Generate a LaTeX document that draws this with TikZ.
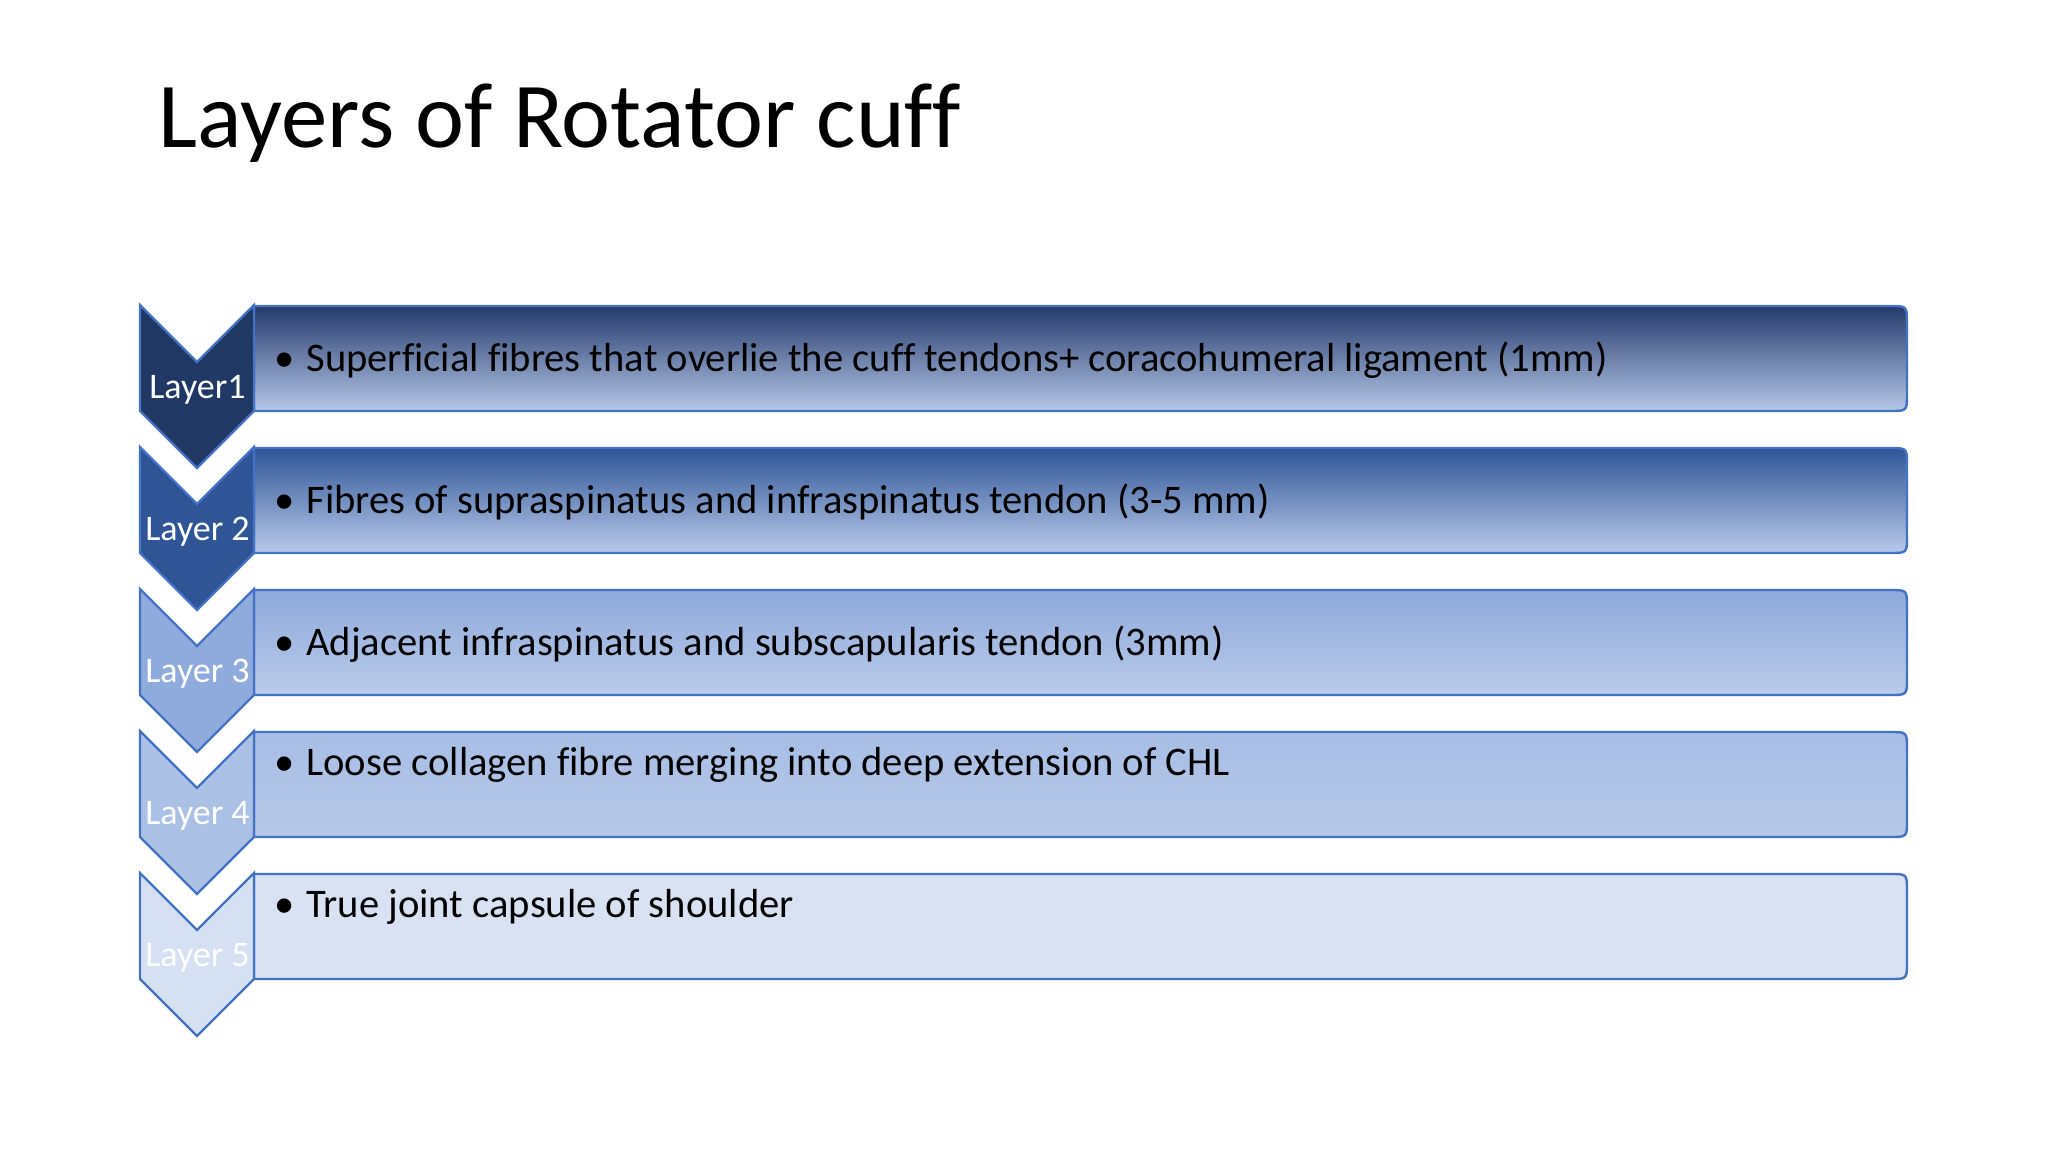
\documentclass[tikz,border=0pt]{standalone}
\usepackage{fontspec}
\setmainfont{Carlito}[Ligatures=NoCommon]
\definecolor{edge}{HTML}{4472C4}
\definecolor{cA}{HTML}{1F3864}
\definecolor{cB}{HTML}{2F5597}
\definecolor{cC}{HTML}{8FAADC}
\definecolor{cD}{HTML}{ABC0E5}
\definecolor{cE}{HTML}{D6E0F3}
\begin{document}
\begin{tikzpicture}[x=0.5pt,y=-0.5pt,
  chev/.style={draw=edge,line width=1.2pt,line join=miter},
  bar/.style={draw=edge,line width=1.2pt},
  lbl/.style={text=white,font=\fontsize{18}{21}\selectfont,inner sep=0pt,anchor=base},
  txt/.style={text=black,font=\fontsize{20.3}{24}\selectfont,inner sep=0pt,anchor=base west}]
\useasboundingbox[fill=white] (0,0) rectangle (2048,1152);
\node[anchor=base west,inner sep=0pt,font=\fontsize{46.4}{55}\selectfont] (title) at (158,147) {Layers of Rotator cuff};
% bars
\foreach \i/\topc/\midc/\botc in {0/243A6C/7890C2/B6C8E8, 1/2F5597/7D99CF/B8CAEA, 2/8EA9DB/A3B9E2/BACBEA, 3/A8BEE5/AFC3E7/B6C8E8, 4/D8E2F3/D8E2F3/D8E2F3}{
  \pgfmathsetmacro{\t}{306+142*\i}
  \pgfmathsetmacro{\b}{411+142*\i}
  \definecolor{tc}{HTML}{\topc}\definecolor{mc}{HTML}{\midc}\definecolor{bc}{HTML}{\botc}
  \path[bar,top color=tc,middle color=mc,bottom color=bc]
    (254,\t) -- (1890,\t) .. controls (1907,\t) .. (1907,\t+17) -- (1907,\b-17)
    .. controls (1907,\b) .. (1890,\b) -- (254,\b) -- cycle;
}
% chevrons
\foreach \i/\c in {0/cA,1/cB,2/cC,3/cD,4/cE}{
  \pgfmathsetmacro{\t}{305+142*\i}
  \path[chev,fill=\c] (140,\t) -- (197,\t+57) -- (254,\t) -- (254,\t+106) -- (197,\t+163) -- (140,\t+106) -- cycle;
}
\node[lbl] (l1) at (197.5,398) {Layer1};
\node[lbl] (l2) at (197.5,540) {Layer 2};
\node[lbl] (l3) at (197.5,682) {Layer 3};
\node[lbl] (l4) at (197.5,824) {Layer 4};
\node[lbl] (l5) at (197.5,966) {Layer 5};
\node[txt] (t1) at (306,371) {\llap{\textbullet\hspace{0.3em}}Superficial fibres that overlie the cuff tendons+ coracohumeral ligament (1mm)};
\node[txt] (t2) at (306,513) {\llap{\textbullet\hspace{0.3em}}Fibres of supraspinatus and infraspinatus tendon (3-5 mm)};
\node[txt] (t3) at (306,655) {\llap{\textbullet\hspace{0.3em}}Adjacent infraspinatus and subscapularis tendon (3mm)};
\node[txt] (t4) at (306,775) {\llap{\textbullet\hspace{0.3em}}Loose collagen fibre merging into deep extension of CHL};
\node[txt] (t5) at (306,917) {\llap{\textbullet\hspace{0.3em}}True joint capsule of shoulder};
\end{tikzpicture}
\end{document}
